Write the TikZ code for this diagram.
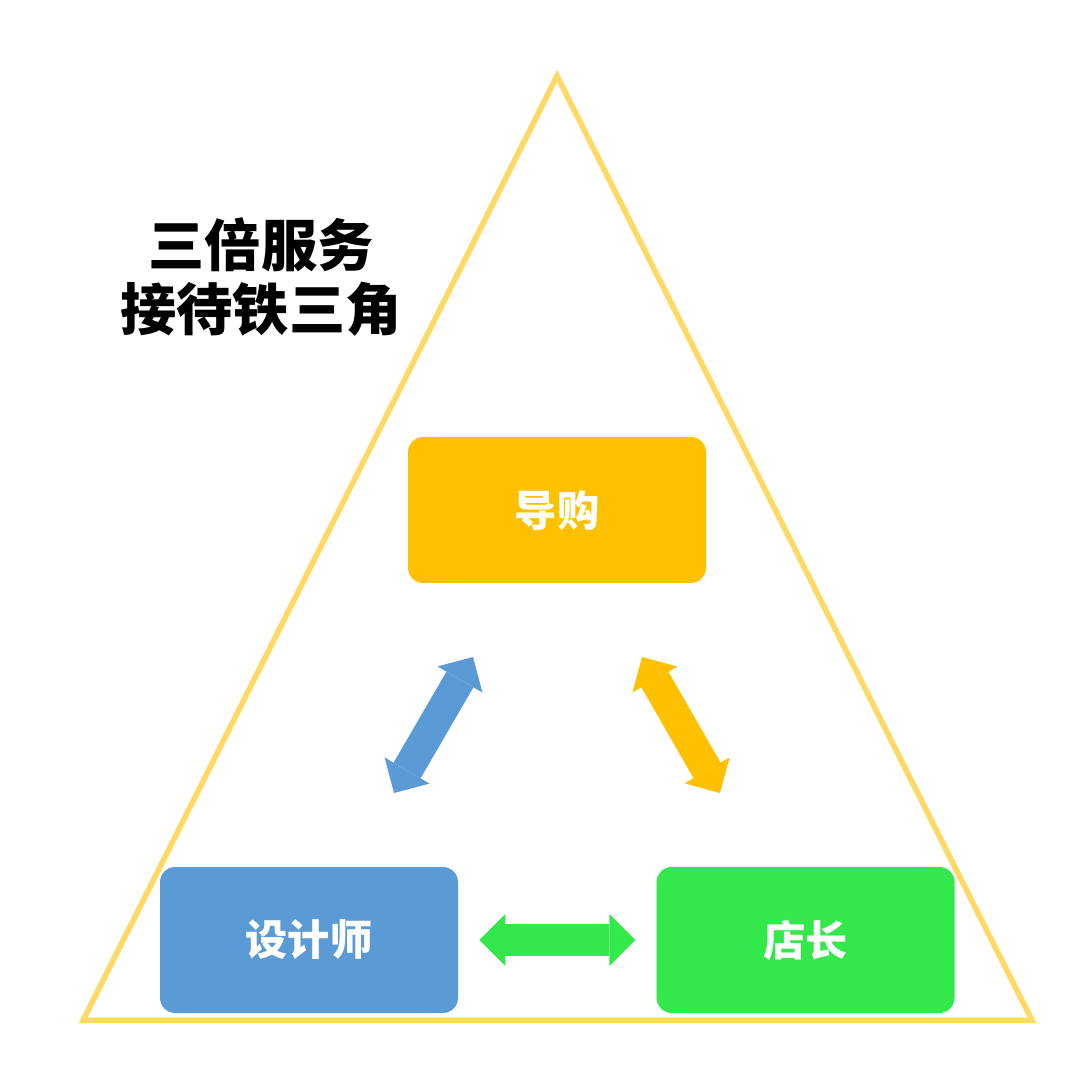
\documentclass[tikz,border=0pt]{standalone}
\usepackage{fontspec}
\setmainfont{Noto Sans CJK SC}
\usetikzlibrary{arrows.meta,positioning}
\definecolor{sanjiao}{HTML}{FFD966}
\definecolor{daogoucol}{HTML}{FFC000}
\definecolor{shejicol}{HTML}{5B9BD5}
\definecolor{dianzhangcol}{HTML}{33E84A}
\tikzset{
	every node/.style={
		font=\bfseries
	},
	rolebox/.style={
		shape=rectangle,
		minimum width=7.45cm,
		minimum height=3.65cm,
		rounded corners=0.38cm,
		text=white,
		font=\fontsize{30}{36}\selectfont\bfseries,
	},
	title/.style={
		align=center,
		text=black,
		font=\fontsize{40}{46}\selectfont\bfseries,
	},
	kuaijian/.style={
		{Triangle[width=1.3cm,length=0.65cm,line width=0pt]}-{Triangle[width=1.3cm,length=0.65cm,line width=0pt]},
		line width=0.78cm,
	},
}

\begin{document}
\begin{tikzpicture}
	\useasboundingbox (0,0) rectangle (27,26.925);
	
	\draw[sanjiao, line width=0.14cm, line join=miter] (13.925,25.025) -- (2.075,1.415) -- (25.8,1.415) -- cycle;
	
	\node[title]                              (biaoti)    at (6.525,20.0)     {三倍服务\\接待铁三角};
	\node[rolebox, fill=daogoucol]            (daogou)    at (13.925,14.175)  {导购};
	\node[rolebox, fill=shejicol]             (sheji)     at (7.725,3.425)    {设计师};
	\node[rolebox, fill=dianzhangcol, right=4.95cm of sheji] (dianzhang) {店长};
	
	\coordinate (b1) at (9.85,7.1);
	\coordinate (b2) at (11.825,10.5);
	\coordinate (o1) at (16.05,10.5);
	\coordinate (o2) at (18.0,7.1);
	\coordinate[right=0.525cm of sheji.east]     (g1);
	\coordinate[left=0.525cm of dianzhang.west]  (g2);
	
	\draw[kuaijian, shejicol]     (b1) -- (b2);
	\draw[kuaijian, daogoucol]    (o1) -- (o2);
	\draw[kuaijian, dianzhangcol] (g1) -- (g2);
\end{tikzpicture}
\end{document}
